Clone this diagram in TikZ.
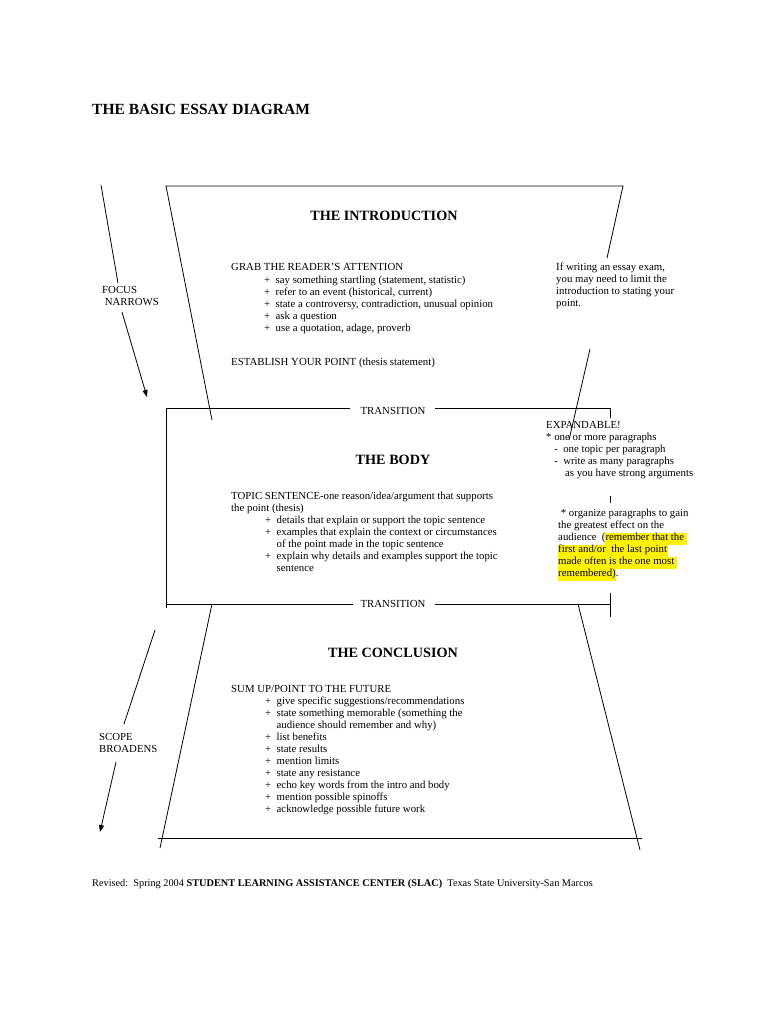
\documentclass[tikz,border=0pt]{standalone}
\usepackage{fontspec}
\setmainfont{Liberation Serif}
\usetikzlibrary{arrows.meta}
\begin{document}
\begin{tikzpicture}[x=1pt,y=-1pt,
  ln/.style={line width=0.8pt},
  hd/.style={font=\fontsize{14.2}{16}\selectfont\bfseries},
  tx/.style={font=\fontsize{10.8}{12}\selectfont,align=left,inner sep=0pt,anchor=north west},
  sm/.style={tx},
  ar/.style={ln,-{Triangle[length=7pt,width=5pt]}}]
\useasboundingbox[fill=white] (0,0) rectangle (768,1024);
\node[anchor=west,inner sep=0pt,font=\fontsize{15.5}{18}\selectfont\bfseries] (title) at (92,109) {THE BASIC ESSAY DIAGRAM};
% intro
\coordinate (i1) at (166,186); \coordinate (i2) at (623,186);
\coordinate (i3) at (212,420); \coordinate (i4) at (607,258);
\coordinate (i5) at (590,349); \coordinate (i6) at (569,440);
\draw[ln] (i3) -- (i1) -- (i2) -- (i4);
\draw[ln] (i5) -- (i6);
\node[hd] (intro) at (384,216) {THE INTRODUCTION};
\node[tx] (grab) at (231,263) {GRAB THE READER'S ATTENTION};
\node[sm] (gl) at (264,276) {+\enspace say something startling (statement, statistic)\\+\enspace refer to an event (historical, current)\\+\enspace state a controversy, contradiction, unusual opinion\\+\enspace ask a question\\+\enspace use a quotation, adage, proverb};
\node[tx] (est) at (231,358) {ESTABLISH YOUR POINT (thesis statement)};
\node[sm] (exam) at (556,263) {If writing an essay exam,\\you may need to limit the\\introduction to stating your\\point.};
% body
\node[font=\fontsize{10.8}{12}\selectfont,inner sep=0pt] (t1) at (393,411) {TRANSITION};
\node[font=\fontsize{10.8}{12}\selectfont,inner sep=0pt] (t2) at (393,604) {TRANSITION};
\coordinate (b1) at (166,408); \coordinate (b2) at (350,408);
\coordinate (b3) at (435,408); \coordinate (b4) at (610,408);
\coordinate (b5) at (610,418);
\coordinate (b6) at (166,608);
\coordinate (c1) at (166,604); \coordinate (c2) at (353,604);
\coordinate (c3) at (435,604); \coordinate (c4) at (610,604);
\draw[ln] (b2) -- (b1) -- (b6);
\draw[ln] (b3) -- (b4) -- (b5);
\draw[ln] (c1) -- (c2);
\draw[ln] (c3) -- (c4);
\coordinate (k1) at (610,593); \coordinate (k2) at (610,617);
\draw[ln] (k1) -- (k2);
\coordinate (k3) at (610,496); \coordinate (k4) at (610,503);
\draw[ln] (k3) -- (k4);
\node[hd] (body) at (393,460) {THE BODY};
\node[tx] (topic) at (231,492) {TOPIC SENTENCE-one reason/idea/argument that supports\\ the point (thesis)};
\node[sm] (tl) at (265,516) {+\enspace details that explain or support the topic sentence\\+\enspace examples that explain the context or circumstances\\\phantom{+\enspace}of the point made in the topic sentence\\+\enspace explain why details and examples support the topic\\\phantom{+\enspace}sentence};
\node[tx] (exp) at (546,421) {EXPANDABLE!};
\node[sm] (exp2) at (546,433) {* one or more paragraphs\\\ \ \ -\ \ one topic per paragraph\\\ \ \ -\ \ write as many paragraphs\\\ \ \ \ \ \ \ as you have strong arguments};
\fill[yellow] (605,533) rectangle (687,545);
\fill[yellow] (558,545) rectangle (668,557);
\fill[yellow] (558,557) rectangle (677,569);
\fill[yellow] (558,569) rectangle (616,581);
\node[sm] (org) at (558,509) {\ * organize paragraphs to gain\\the greatest effect on the\\audience\ \ (remember that the\\first and/or\ \ the last point\\made often is the one most\\remembered).};
% conclusion
\coordinate (d1) at (212,604); \coordinate (d2) at (160,848);
\coordinate (d3) at (578,604); \coordinate (d4) at (640,850);
\coordinate (d5) at (158,838); \coordinate (d6) at (642,838);
\draw[ln] (d1) -- (d2); \draw[ln] (d3) -- (d4); \draw[ln] (d5) -- (d6);
\node[hd] (concl) at (393,653) {THE CONCLUSION};
\node[tx] (sum) at (231,685) {SUM UP/POINT TO THE FUTURE};
\node[sm] (cl) at (265,697) {+\enspace give specific suggestions/recommendations\\+\enspace state something memorable (something the\\\phantom{+\enspace}audience should remember and why)\\+\enspace list benefits\\+\enspace state results\\+\enspace mention limits\\+\enspace state any resistance\\+\enspace echo key words from the intro and body\\+\enspace mention possible spinoffs\\+\enspace acknowledge possible future work};
% side arrows
\node[tx] (focus) at (102,286) {FOCUS\\\ NARROWS};
\coordinate (f1) at (101,185); \coordinate (f2) at (118,283);
\coordinate (f3) at (122,312); \coordinate (f4) at (147,397);
\draw[ln] (f1) -- (f2); \draw[ar] (f3) -- (f4);
\node[tx] (scope) at (99,733) {SCOPE\\BROADENS};
\coordinate (s1) at (155,630); \coordinate (s2) at (124,724);
\coordinate (s3) at (116,762); \coordinate (s4) at (100,832);
\draw[ln] (s1) -- (s2); \draw[ar] (s3) -- (s4);
\node[anchor=west,inner sep=0pt,font=\fontsize{10.3}{12}\selectfont] (rev) at (92,884) {Revised:\ \ Spring 2004 \textbf{STUDENT LEARNING ASSISTANCE CENTER (SLAC)}\ \ Texas State University-San Marcos};
\end{tikzpicture}
\end{document}
